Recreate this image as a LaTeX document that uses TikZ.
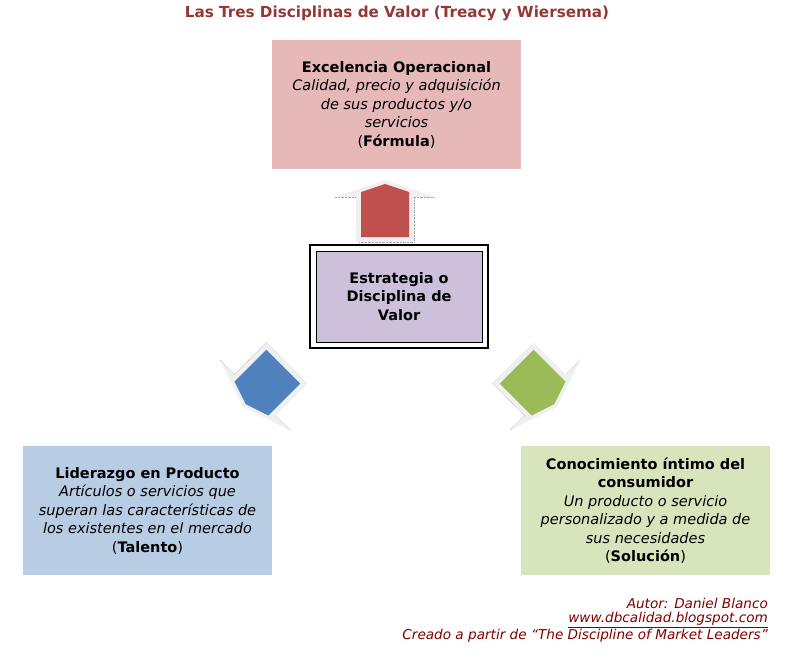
\documentclass[tikz,border=0pt]{standalone}
\usepackage{fontspec}
\setmainfont{DejaVu Sans}
\begin{document}
\begin{tikzpicture}[x=1pt,y=-1pt,
  box/.style={draw=none,minimum width=249pt,minimum height=129pt,align=center,font=\fontsize{14.5}{18.5}\selectfont,inner sep=0pt},
  foot/.style={anchor=east,text=red!50!black,font=\fontsize{13.6}{15}\selectfont\itshape,inner sep=0pt}]
\useasboundingbox (0,0) rectangle (794,660);
\definecolor{tred}{HTML}{E6B8B7}\definecolor{tblue}{HTML}{B8CCE4}\definecolor{tgreen}{HTML}{D7E4BC}
\definecolor{ared}{HTML}{C0504D}\definecolor{ablue}{HTML}{4F81BD}\definecolor{agreen}{HTML}{9BBB59}
\definecolor{cpur}{HTML}{CCC0DA}\definecolor{dred}{HTML}{953735}
\newcommand{\myarrow}[4]{%
 \begin{scope}[shift={(#1,#2)},rotate=#3]
  \fill[gray!12] (-29,45)--(-29,0)--(-50,0)--(0,-17)--(50,0)--(29,0)--(29,45)--cycle;
  \draw[gray!70,densely dotted] (-50,0)--(-29,0) (29,0)--(50,0) (29,0)--(29,45)--(-26,45);
  \fill[#4] (-24,40)--(-24,-5)--(0,-13)--(24,-5)--(24,40)--cycle;
 \end{scope}}
\node[font=\fontsize{15.2}{17}\selectfont\bfseries,text=dred] (title) at (397,13) {Las Tres Disciplinas de Valor (Treacy y Wiersema)};
\node[box,fill=tred] (top) at (396.5,104.5) {\textbf{Excelencia Operacional}\\\textit{Calidad, precio y adquisición}\\\textit{de sus productos y/o}\\\textit{servicios}\\(\textbf{Fórmula})};
\node[box,fill=tblue] (left) at (147.5,510.5) {\textbf{Liderazgo en Producto}\\\textit{Artículos o servicios que}\\\textit{superan las características de}\\\textit{los existentes en el mercado}\\(\textbf{Talento})};
\node[box,fill=tgreen] (right) at (645.5,510.5) {\textbf{Conocimiento íntimo del}\\\textbf{consumidor}\\\textit{Un producto o servicio}\\\textit{personalizado y a medida de}\\\textit{sus necesidades}\\(\textbf{Solución})};
\node[draw,line width=2pt,minimum width=178pt,minimum height=103pt] (outer) at (399,296.5) {};
\node[fill=cpur,draw=black,line width=0.4pt,minimum width=166pt,minimum height=91pt,align=center,font=\fontsize{14.5}{18.5}\selectfont\bfseries] (center) at (399,296.5) {Estrategia o\\Disciplina de\\Valor};
\myarrow{385}{197}{0}{ared}
\myarrow{255}{395}{135}{ablue}
\myarrow{545}{395}{-135}{agreen}
\node[foot] (f1) at (768,603) {Autor: Daniel Blanco};
\node[foot] (f2) at (768,620) {\underline{www.dbcalidad.blogspot.com}};
\node[foot] (f3) at (768,636) {Creado a partir de “The Discipline of Market Leaders”};
\end{tikzpicture}
\end{document}
